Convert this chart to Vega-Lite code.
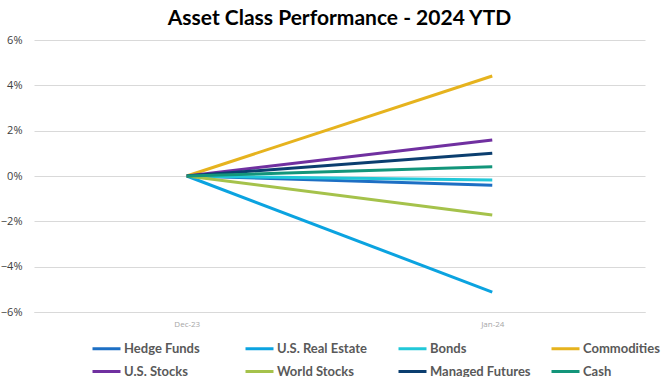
{
  "$schema": "https://vega.github.io/schema/vega-lite/v6.json",
  "width": 611,
  "height": 272,
  "autosize": "none",
  "padding": {"left": 34, "top": 40, "right": 21, "bottom": 65},
  "background": "white",
  "title": {
    "text": "Asset Class Performance - 2024 YTD",
    "fontSize": 21,
    "fontWeight": "bold",
    "font": "Lato",
    "color": "#000000",
    "anchor": "middle",
    "offset": 5
  },
  "data": {
    "values": [
      {"series": "Hedge Funds", "period": "Dec-23", "value": 0},
      {"series": "Hedge Funds", "period": "Jan-24", "value": -0.0041},
      {"series": "U.S. Real Estate", "period": "Dec-23", "value": 0},
      {"series": "U.S. Real Estate", "period": "Jan-24", "value": -0.0512},
      {"series": "Bonds", "period": "Dec-23", "value": 0},
      {"series": "Bonds", "period": "Jan-24", "value": -0.0018},
      {"series": "Commodities", "period": "Dec-23", "value": 0},
      {"series": "Commodities", "period": "Jan-24", "value": 0.0441},
      {"series": "U.S. Stocks", "period": "Dec-23", "value": 0},
      {"series": "U.S. Stocks", "period": "Jan-24", "value": 0.0159},
      {"series": "World Stocks", "period": "Dec-23", "value": 0},
      {"series": "World Stocks", "period": "Jan-24", "value": -0.0172},
      {"series": "Managed Futures", "period": "Dec-23", "value": 0},
      {"series": "Managed Futures", "period": "Jan-24", "value": 0.0100},
      {"series": "Cash", "period": "Dec-23", "value": 0},
      {"series": "Cash", "period": "Jan-24", "value": 0.0041}
    ]
  },
  "mark": {"type": "line", "strokeWidth": 3},
  "encoding": {
    "x": {
      "field": "period",
      "type": "ordinal",
      "sort": ["Dec-23", "Jan-24"],
      "scale": {"type": "point", "padding": 0.5},
      "axis": {
        "title": null,
        "labelAngle": 0,
        "labelFontSize": 8,
        "labelColor": "#a6a6a6",
        "labelFont": "Open Sans",
        "ticks": false,
        "domain": true,
        "domainColor": "#d9d9d9",
        "labelPadding": 8,
        "grid": false
      }
    },
    "y": {
      "field": "value",
      "type": "quantitative",
      "scale": {"domain": [-0.06, 0.06], "nice": false},
      "axis": {
        "title": null,
        "format": ".0%",
        "values": [-0.06, -0.04, -0.02, 0, 0.02, 0.04, 0.06],
        "labelFontSize": 11,
        "labelColor": "#404040",
        "labelFont": "Open Sans",
        "ticks": false,
        "domain": false,
        "gridColor": "#d9d9d9",
        "gridWidth": 1,
        "labelPadding": 12
      }
    },
    "color": {
      "field": "series",
      "type": "nominal",
      "scale": {
        "domain": ["Hedge Funds", "U.S. Real Estate", "Bonds", "Commodities", "U.S. Stocks", "World Stocks", "Managed Futures", "Cash"],
        "range": ["#1D6FC4", "#0BA3E0", "#22C8D8", "#E6B31E", "#7030A0", "#A5C24B", "#0B3E6F", "#13957A"]
      },
      "legend": {
        "title": null,
        "orient": "none",
        "legendX": 57,
        "legendY": 293,
        "direction": "horizontal",
        "columns": 4,
        "gridAlign": "all",
        "columnPadding": 14,
        "rowPadding": -8,
        "symbolType": "stroke",
        "symbolSize": 784,
        "symbolStrokeWidth": 3,
        "labelFontSize": 13,
        "labelFontWeight": "bold",
        "labelFont": "Lato",
        "labelColor": "#595959",
        "labelOffset": 2
      }
    }
  },
  "config": {"view": {"stroke": null}}
}
